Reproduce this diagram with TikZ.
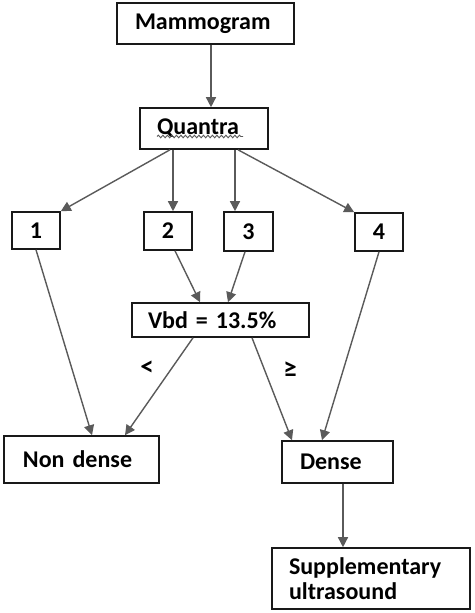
\documentclass[tikz,border=0pt]{standalone}
\usepackage{fontspec}
\setmainfont{Carlito}
\usetikzlibrary{arrows.meta,decorations.pathmorphing}
\definecolor{lngray}{HTML}{5A5A5A}
\tikzset{
  box/.style={draw=black!90, line width=1.6pt, rectangle, inner ysep=0pt,
    font=\fontsize{24}{25}\selectfont\bfseries},
  lbox/.style n args={3}{box, text width=#1, inner xsep=#2, minimum height=#3, align=left},
  nbox/.style n args={2}{box, inner xsep=0pt, minimum width=#1, minimum height=#2},
  arr/.style={draw=lngray, line width=1.4pt, -{Triangle[length=10pt,width=10pt]}, fill=lngray},
  cond/.style={font=\fontsize{27}{28}\selectfont\bfseries, inner sep=0pt}
}
\begin{document}
\begin{tikzpicture}[x=1pt,y=-1pt]
\useasboundingbox (0,0) rectangle (474,613);
\node[lbox={141pt}{18pt}{41pt}] (m) at (205.5,23.5) {Mammogram};
\node[lbox={94pt}{17pt}{41pt}] (q) at (204,128.5) {Quantra};
\node[nbox={48pt}{37pt}] (b1) at (36,230.5) {1};
\node[nbox={48pt}{38pt}] (b2) at (168,231) {2};
\node[nbox={49pt}{39pt}] (b3) at (248.5,231.5) {3};
\node[nbox={48pt}{38pt}] (b4) at (379,232) {4};
\node[lbox={145pt}{16pt}{34pt}] (v) at (220.5,320) {Vbd = 13.5\%};
\node[lbox={117pt}{19pt}{47pt}] (nd) at (81.5,459.5) {Non dense};
\node[lbox={75pt}{18pt}{42pt}] (d) at (337.5,462) {Dense};
\node[lbox={164pt}{17pt}{61pt}] (s) at (371,578.5) {Supplementary\\ultrasound};
\node[cond] (lt) at (147,368) {<};
\node[cond] (ge) at (290,370) {≥};
% spell-check squiggle under Quantra
\draw[lngray, line width=0.9pt, decorate, decoration={snake, segment length=4.5pt, amplitude=1.3pt}]
  ([xshift=-47pt,yshift=-8pt]q.center) -- ([xshift=39pt,yshift=-8pt]q.center);
% connectors
\draw[arr] ([xshift=5.5pt]m.south) -- ([xshift=7pt]q.north);
\draw[arr] ([xshift=-34pt]q.south) -- (b1.north east);
\draw[arr] ([xshift=-31pt]q.south) -- ([xshift=5pt]b2.north);
\draw[arr] ([xshift=31pt]q.south) -- ([xshift=-13.5pt]b3.north);
\draw[arr] ([xshift=34pt]q.south) -- (b4.north west);
\draw[arr] ([xshift=7pt]b2.south) -- ([xshift=-20.5pt]v.north);
\draw[arr] ([xshift=-3.5pt]b3.south) -- ([xshift=7.5pt]v.north);
\draw[arr] (b1.south) -- ([xshift=10.5pt]nd.north);
\draw[arr] ([xshift=-27.5pt]v.south) -- ([xshift=43.5pt]nd.north);
\draw[arr] ([xshift=31.5pt]v.south) -- ([xshift=-45.5pt]d.north);
\draw[arr] (b4.south) -- ([xshift=-15.5pt]d.north);
\draw[arr] ([xshift=5.5pt]d.south) -- ([xshift=-28pt]s.north);
\end{tikzpicture}
\end{document}
